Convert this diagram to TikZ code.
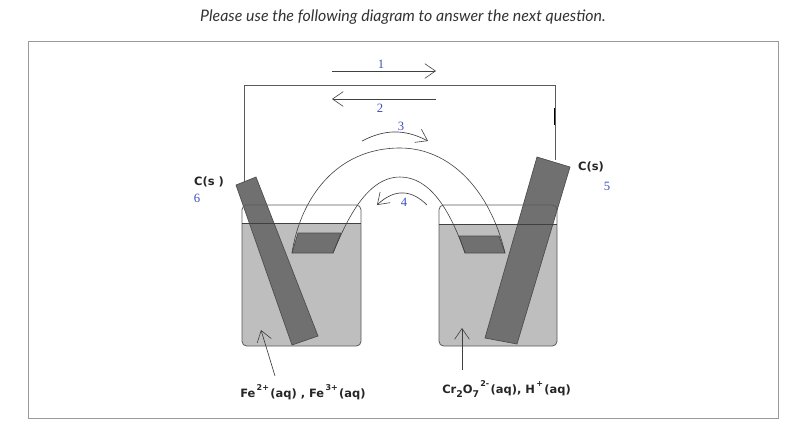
\documentclass[tikz,border=0pt]{standalone}
\usepackage{fontspec}
\setmainfont{Lato}
\newfontfamily\labelfont{DejaVu Sans}
\newfontfamily\numfont{Liberation Serif}
\usetikzlibrary{arrows.meta, positioning}
\definecolor{framegray}{HTML}{9A9A9A}
\definecolor{wiregray}{HTML}{5A5A5A}
\definecolor{watergray}{HTML}{BEBEBE}
\definecolor{rodgray}{HTML}{707070}
\definecolor{numblue}{HTML}{3F4FC0}
\definecolor{titlegray}{HTML}{333333}
\newcommand{\chgup}[1]{\raisebox{1.2ex}{\kern1pt\fontsize{6}{6}\selectfont #1\kern1pt}}
\newcommand{\numdown}[1]{\raisebox{-0.7ex}{\fontsize{7}{7}\selectfont #1}}
\tikzset{
    beaker/.style={draw=wiregray, line width=0.6pt, rounded corners=3.5pt},
    rod/.style={draw=black!70, fill=rodgray, line width=0.5pt},
    saltfill/.style={draw=black!70, fill=rodgray, line width=0.5pt},
    bridge/.style={draw=black!75, line width=0.45pt},
    thinarrow/.style={draw=black!75, line width=0.5pt, -{Straight Barb[length=8pt,width=11pt,line width=0.45pt]}},
    number/.style={text=numblue, font=\numfont\fontsize{9.5}{10}\selectfont, inner sep=0pt},
    species/.style={text=black!85, font=\labelfont\bfseries\fontsize{8.6}{10}\selectfont, inner sep=0pt}
}

\begin{document}
\begin{tikzpicture}[x=0.75pt, y=-0.75pt]
    \useasboundingbox (0, 0) rectangle (806, 426);
    \node[inner sep=0pt, text=titlegray, font=\itshape\fontsize{11.95}{14}\selectfont] (title) at (403, 17) {Please use the following diagram to answer the next question.};
    \draw[framegray, line width=0.7pt] (28, 41) rectangle (778, 418);

    % water
    \fill[watergray, rounded corners=3.5pt] (242, 223) -- (242, 346) -- (361, 346) -- (361, 223) -- cycle;
    \fill[watergray, rounded corners=3.5pt] (439, 224) -- (439, 346) -- (557, 346) -- (557, 224) -- cycle;
    \fill[watergray] (242, 223) rectangle (361, 230);
    \fill[watergray] (439, 224) rectangle (557, 231);

    % salt bridge
    \path[saltfill] (298, 233) -- (341, 233) -- (333, 253) -- (292, 253) -- cycle;
    \path[saltfill] (459, 236) -- (499, 236) -- (505, 253) -- (465, 253) -- cycle;
    \path[bridge] (292, 253) .. controls (300, 200) and (335, 148) .. (400, 148) .. controls (450, 148) and (490, 190) .. (505, 253);
    \path[bridge] (333, 253) .. controls (345, 225) and (365, 177) .. (400, 177) .. controls (430, 177) and (450, 210) .. (465, 253);

    % wire
    \coordinate (wl) at (244, 205);
    \coordinate (wr) at (555, 160);
    \draw[wiregray, line width=0.6pt] (wl) -- (244, 85) -- (555, 85) -- (wr);
    \draw[black, line width=1pt] (554.5, 108) -- (554.5, 125);

    % rods
    \path[rod] (236, 185) -- (256, 177) -- (318, 336) -- (292, 345) -- cycle;
    \path[rod] (537, 157) -- (570, 167) -- (517, 344) -- (485, 338) -- cycle;

    % beakers
    \path[beaker] (242, 205) -- (242, 346) -- (361, 346) -- (361, 205) -- cycle;
    \path[beaker] (439, 205) -- (439, 346) -- (557, 346) -- (557, 205) -- cycle;
    \draw[black!75, line width=0.6pt] (242, 223) -- (361, 223);
    \draw[black!75, line width=0.6pt] (439, 224) -- (557, 224);

    % arrows
    \coordinate (a1s) at (332, 71);
    \coordinate (a1e) at (436, 71);
    \coordinate (a2s) at (436, 99);
    \coordinate (a2e) at (332, 99);
    \coordinate (a3s) at (362, 141);
    \coordinate (a3e) at (428, 141);
    \coordinate (a4s) at (427, 205);
    \coordinate (a4e) at (377, 205);
    \coordinate (a5s) at (275, 376);
    \coordinate (a5e) at (261, 330);
    \coordinate (a6s) at (462, 370);
    \coordinate (a6e) at (462, 328);
    \draw[thinarrow] (a1s) -- (a1e);
    \draw[thinarrow] (a2s) -- (a2e);
    \draw[thinarrow] (a3s) .. controls (385, 129) and (405, 129) .. (a3e);
    \draw[thinarrow] (a4s) .. controls (412, 190) and (395, 188) .. (a4e);
    \draw[thinarrow] (a5s) -- (a5e);
    \draw[thinarrow] (a6s) -- (a6e);

    % labels
    \node[number] (n1) at (381, 64) {1};
    \node[number] (n2) at (380, 108) {2};
    \node[number] (n3) at (401, 126) {3};
    \node[number] (n4) at (404, 202) {4};
    \node[number] (n5) at (607, 186) {5};
    \node[number] (n6) at (197, 198) {6};
    \node[species] (cl) at (209, 182) {C(s )};
    \node[species] (cr) at (591, 167) {C(s)};
    \node[species, anchor=west] (fe) at (240, 392) {Fe\chgup{2+}(aq) , Fe\chgup{3+}(aq)};
    \node[species, anchor=west] (cr2) at (442, 389) {Cr\numdown{2}O\numdown{7}\chgup{2-}(aq), H\chgup{+}(aq)};
\end{tikzpicture}
\end{document}
